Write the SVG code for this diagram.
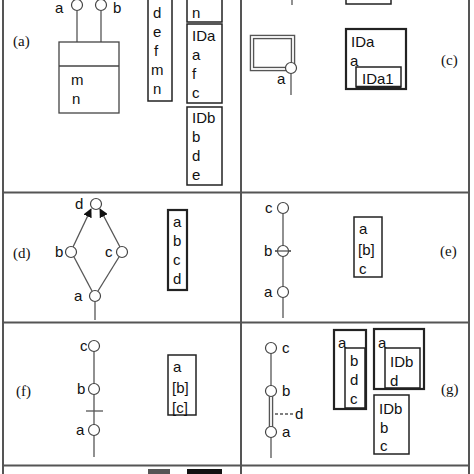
<svg xmlns="http://www.w3.org/2000/svg" width="474" height="474" viewBox="0 0 474 474">
<style>
.t{font-family:"Liberation Sans",Arial,sans-serif;font-size:15px;fill:#111}
.p{font-family:"Liberation Serif","Times New Roman",serif;font-size:15px;fill:#111}
.bx{fill:none;stroke:#222;stroke-width:1.5}
.bk{fill:none;stroke:#222;stroke-width:2.2}
.ln{stroke:#555;stroke-width:1.3;fill:none}
.nd{fill:#fff;stroke:#444;stroke-width:1.2}
.grid{stroke:#555;stroke-width:2;fill:none}
</style>
<defs>
<marker id="ah" viewBox="0 0 10 10" refX="9" refY="5" markerWidth="9" markerHeight="9" markerUnits="userSpaceOnUse" orient="auto">
<path d="M0,0 L10,5 L0,10 z" fill="#111"/>
</marker>
</defs>
<rect width="474" height="474" fill="#fff"/>
<g id="grid">
<line class="grid" x1="3" y1="0" x2="3" y2="474"/>
<line class="grid" x1="241" y1="0" x2="241" y2="474"/>
<line class="grid" x1="469" y1="0" x2="469" y2="474"/>
<line class="grid" x1="3" y1="192.5" x2="469" y2="192.5"/>
<line class="grid" x1="3" y1="322.5" x2="469" y2="322.5"/>
<line class="grid" x1="3" y1="465.5" x2="469" y2="465.5"/>
</g>
<g id="connectors">
<line class="ln" x1="77" y1="11" x2="77" y2="42"/>
<line class="ln" x1="101" y1="11" x2="101" y2="42"/>
<line class="ln" x1="292" y1="0" x2="292" y2="5"/>
<line class="ln" x1="291" y1="73" x2="291" y2="95"/>
<line class="ln" x1="92" y1="291" x2="74" y2="257"/>
<line class="ln" x1="98" y1="291" x2="119" y2="257"/>
<line class="ln" x1="95" y1="302" x2="95" y2="320"/>
<line class="ln" x1="73" y1="247" x2="91" y2="209" marker-end="url(#ah)"/>
<line class="ln" x1="120" y1="247" x2="100" y2="209" marker-end="url(#ah)"/>
<line class="ln" x1="283" y1="208" x2="283" y2="318"/>
<line class="ln" x1="275" y1="251" x2="291" y2="251"/>
<line class="ln" x1="94" y1="346" x2="94" y2="457"/>
<line class="ln" x1="86" y1="411" x2="103" y2="411"/>
<line class="ln" x1="271" y1="348" x2="271" y2="396"/>
<line class="ln" x1="271" y1="427" x2="271" y2="458"/>
<line x1="271" y1="396" x2="271" y2="427" stroke="#555" stroke-width="4.5"/>
<line x1="271" y1="396" x2="271" y2="427" stroke="#fff" stroke-width="1.8"/>
<line class="ln" x1="275" y1="414" x2="294" y2="414" stroke-dasharray="3,2"/>
</g>
<g id="panel-a">
<text class="p" x="13" y="46">(a)</text>
<g id="a-node-a"><circle class="nd" cx="77" cy="5" r="5.5"/><text class="t" x="55" y="13">a</text></g>
<g id="a-node-b"><circle class="nd" cx="101" cy="5" r="5.5"/><text class="t" x="113" y="13">b</text></g>
<g id="a-class">
<rect x="59" y="42" width="60" height="71" fill="none" stroke="#444" stroke-width="1.3"/>
<line x1="59" y1="66" x2="119" y2="66" stroke="#444" stroke-width="1.3"/>
<text class="t" x="71" y="85">m</text><text class="t" x="72" y="104">n</text>
</g>
<g id="a-list1">
<rect class="bx" x="148" y="-5" width="24" height="106"/>
<text class="t" x="153" y="18">d</text><text class="t" x="153" y="37">e</text><text class="t" x="154" y="56">f</text><text class="t" x="151" y="75">m</text><text class="t" x="153" y="94">n</text>
</g>
<g id="a-list2">
<rect class="bx" x="187" y="-5" width="35" height="27"/>
<text class="t" x="192" y="18">n</text>
<rect class="bx" x="187" y="24" width="35" height="79"/>
<text class="t" x="192" y="41">IDa</text><text class="t" x="192" y="60">a</text><text class="t" x="192" y="79">f</text><text class="t" x="192" y="98">c</text>
<rect class="bx" x="187" y="107" width="35" height="78"/>
<text class="t" x="192" y="123">IDb</text><text class="t" x="192" y="142">b</text><text class="t" x="192" y="161">d</text><text class="t" x="192" y="180">e</text>
</g>
</g>
<g id="panel-c">
<text class="p" x="441" y="65">(c)</text>
<rect class="bx" x="346" y="-5" width="45" height="9"/>
<g id="c-frame">
<rect x="252" y="37" width="41" height="32" fill="none" stroke="#555" stroke-width="4.5"/>
<rect x="252" y="37" width="41" height="32" fill="none" stroke="#fff" stroke-width="1.8"/>
</g>
<g id="c-node-a"><circle class="nd" cx="291" cy="68" r="5.5"/><text class="t" x="277" y="84">a</text></g>
<g id="c-box">
<rect class="bk" x="346" y="29" width="60" height="60"/>
<text class="t" x="351" y="47">IDa</text><text class="t" x="350" y="66">a</text>
<rect x="356" y="67" width="45" height="20" fill="none" stroke="#222" stroke-width="1.5"/>
<line x1="356" y1="87" x2="401" y2="87" stroke="#222" stroke-width="2.5"/>
<text class="t" x="362" y="84">IDa1</text>
</g>
</g>
<g id="panel-d">
<text class="p" x="13" y="258">(d)</text>
<g id="d-node-d"><circle class="nd" cx="96" cy="204" r="5.5"/><text class="t" x="75" y="209">d</text></g>
<g id="d-node-b"><circle class="nd" cx="71" cy="252" r="5.5"/><text class="t" x="55" y="257">b</text></g>
<g id="d-node-c"><circle class="nd" cx="122" cy="252" r="5.5"/><text class="t" x="105" y="257">c</text></g>
<g id="d-node-a"><circle class="nd" cx="95" cy="296" r="5.5"/><text class="t" x="74" y="301">a</text></g>
<g id="d-list">
<rect class="bk" x="168" y="210" width="19" height="80"/>
<text class="t" x="173" y="227">a</text><text class="t" x="173" y="246">b</text><text class="t" x="173" y="265">c</text><text class="t" x="173" y="284">d</text>
</g>
</g>
<g id="panel-e">
<text class="p" x="440" y="256">(e)</text>
<g id="e-node-c"><circle class="nd" cx="283" cy="208" r="5.5"/><text class="t" x="265" y="213">c</text></g>
<g id="e-node-b"><circle class="nd" cx="283" cy="251" r="5.5"/><line class="ln" x1="275" y1="251" x2="291" y2="251"/><text class="t" x="264" y="256">b</text></g>
<g id="e-node-a"><circle class="nd" cx="283" cy="292" r="5.5"/><text class="t" x="264" y="297">a</text></g>
<g id="e-list">
<rect class="bx" x="354" y="217" width="28" height="60"/>
<text class="t" x="359" y="234">a</text><text class="t" x="358" y="255">[b]</text><text class="t" x="359" y="274">c</text>
</g>
</g>
<g id="panel-f">
<text class="p" x="16" y="396">(f)</text>
<g id="f-node-c"><circle class="nd" cx="94" cy="346" r="5.5"/><text class="t" x="80" y="351">c</text></g>
<g id="f-node-b"><circle class="nd" cx="94" cy="389" r="5.5"/><text class="t" x="77" y="394">b</text></g>
<g id="f-node-a"><circle class="nd" cx="94" cy="430" r="5.5"/><text class="t" x="76" y="435">a</text></g>
<g id="f-list">
<rect class="bx" x="168" y="355" width="28" height="60"/>
<text class="t" x="173" y="372">a</text><text class="t" x="172" y="393">[b]</text><text class="t" x="172" y="413">[c]</text>
</g>
</g>
<g id="panel-g">
<text class="p" x="441" y="394">(g)</text>
<g id="g-node-c"><circle class="nd" cx="271" cy="348" r="5.5"/><text class="t" x="282" y="353">c</text></g>
<g id="g-node-b"><circle class="nd" cx="271" cy="391" r="5.5"/><text class="t" x="282" y="396">b</text></g>
<g id="g-node-a"><circle class="nd" cx="271" cy="432" r="5.5"/><text class="t" x="282" y="437">a</text></g>
<text class="t" x="295" y="419">d</text>
<g id="g-box1">
<rect class="bk" x="334" y="330" width="32" height="79"/>
<text class="t" x="338" y="348">a</text>
<rect class="bx" x="345" y="348" width="20" height="60"/>
<text class="t" x="350" y="366">b</text><text class="t" x="350" y="385">d</text><text class="t" x="350" y="404">c</text>
</g>
<g id="g-box2">
<rect class="bk" x="374" y="329" width="50" height="60"/>
<text class="t" x="378" y="348">a</text>
<rect class="bx" x="385" y="348" width="35" height="40"/>
<text class="t" x="390" y="367">IDb</text><text class="t" x="390" y="386">d</text>
</g>
<g id="g-box3">
<rect class="bx" x="374" y="395" width="35" height="59"/>
<text class="t" x="379" y="414">IDb</text><text class="t" x="380" y="433">b</text><text class="t" x="380" y="451">c</text>
</g>
</g>
<g id="bottom-partial">
<rect x="148" y="469" width="22" height="6" fill="#555"/>
<rect x="187" y="469" width="35" height="6" fill="#111"/>
</g>
</svg>
